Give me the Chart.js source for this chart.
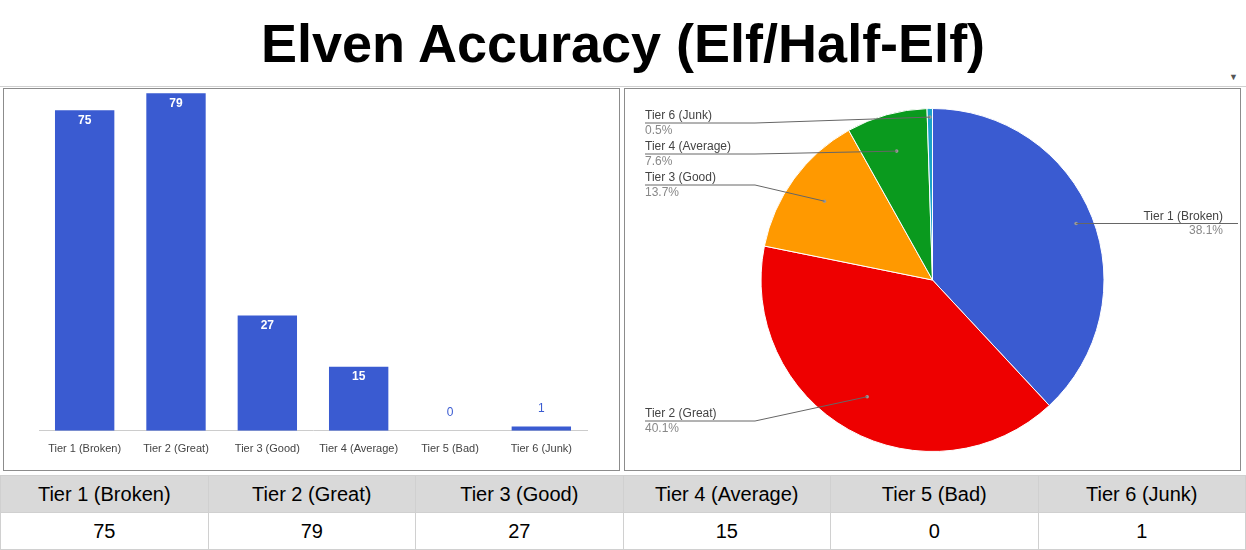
<!DOCTYPE html>
<html>
<head>
<meta charset="utf-8">
<script src="https://cdn.jsdelivr.net/npm/chart.js@4"></script>
<style>
  body { margin: 0; width: 1246px; height: 550px; background: #fff; font-family: "Liberation Sans", Arial, sans-serif; overflow: hidden; position: relative; }
  #title { position: absolute; left: 0; top: 0; width: 1246px; height: 86px; border-bottom: 1px solid #d0d0d0; text-align: center; font-weight: bold; font-size: 54px; line-height: 86px; color: #000; }
  .box { position: absolute; top: 88px; width: 615px; height: 381px; border: 1px solid #8c8c8c; background: #fff; }
  #barBox { left: 3px; }
  #pieBox { left: 624px; }
  table { position: absolute; left: 0; top: 475px; width: 1246px; border-collapse: collapse; table-layout: fixed; }
  td { border: 1px solid #d0d0d0; text-align: center; font-size: 20px; color: #000; }
  tr.head td { background: #d9d9d9; height: 34px; }
  tr.vals td { background: #fff; height: 34px; }
  #arrow { position: absolute; left: 1229px; top: 72px; font-size: 9px; color: #555; }
</style>
</head>
<body>
<div id="title">Elven Accuracy (Elf/Half-Elf)</div>
<div id="arrow">▼</div>
<div class="box" id="barBox"><canvas id="bar" width="615" height="381"></canvas></div>
<div class="box" id="pieBox"><canvas id="pie" width="615" height="381"></canvas></div>
<table id="tbl"></table>
<script>
const categories = ['Tier 1 (Broken)', 'Tier 2 (Great)', 'Tier 3 (Good)', 'Tier 4 (Average)', 'Tier 5 (Bad)', 'Tier 6 (Junk)'];
const counts = [75, 79, 27, 15, 0, 1];
const pieColors = ['#3a5bd1', '#ee0000', '#ff9900', '#0a9a1e', '#9a0099', '#1aa3c9'];
const barColor = '#3a5bd1';

// ─── table ──────────────────────────────────────────────────────────────
document.getElementById('tbl').innerHTML =
    '<tr class="head">' + categories.map(c => `<td>${c}</td>`).join('') + '</tr>' +
    '<tr class="vals">' + counts.map(v => `<td>${v}</td>`).join('') + '</tr>';

// ─── bar chart ──────────────────────────────────────────────────────────
const barLabels = {
    id: 'barLabels',
    afterDatasetsDraw(chart) {
        const ctx = chart.ctx;
        const meta = chart.getDatasetMeta(0);
        ctx.save();
        ctx.textAlign = 'center';
        meta.data.forEach((el, i) => {
            const v = counts[i];
            if (v >= 10) {
                ctx.font = 'bold 12px "Liberation Sans", Arial';
                ctx.fillStyle = '#fff';
                ctx.textBaseline = 'top';
                ctx.fillText(v, el.x, el.y + 4);
            } else {
                ctx.font = '12px "Liberation Sans", Arial';
                ctx.fillStyle = barColor;
                ctx.textBaseline = 'bottom';
                ctx.fillText(v, el.x, el.y - 12);
            }
        });
        ctx.restore();
    }
};

new Chart(document.getElementById('bar'), {
    type: 'bar',
    data: {
        labels: categories,
        datasets: [{data: counts, backgroundColor: barColor, categoryPercentage: 0.65, barPercentage: 1}],
    },
    options: {
        responsive: false,
        animation: false,
        layout: {padding: {left: 35, right: 32, top: 0, bottom: 10}},
        plugins: {legend: {display: false}, tooltip: {enabled: false}},
        scales: {
            x: {
                grid: {display: false},
                border: {color: '#cccccc'},
                ticks: {color: '#444', font: {size: 11, family: '"Liberation Sans", Arial'}, maxRotation: 0, padding: 4},
            },
            y: {display: false, min: 0, max: 80},
        },
    },
    plugins: [barLabels],
});

// ─── pie chart ──────────────────────────────────────────────────────────
const total = counts.reduce((a, b) => a + b, 0);
const pieLabelY = [null, 326, 90, 59, 0, 28];   // text rows for left-side labels

const pieLabels = {
    id: 'pieLabels',
    afterDatasetsDraw(chart) {
        const ctx = chart.ctx;
        const meta = chart.getDatasetMeta(0);
        ctx.save();
        ctx.font = '12px "Liberation Sans", Arial';
        ctx.textBaseline = 'alphabetic';
        meta.data.forEach((arc, i) => {
            if (!counts[i]) return;
            const mid = (arc.startAngle + arc.endAngle) / 2;
            const r = arc.outerRadius * (i === 0 ? 0.9 : i === 5 ? 0.95 : 0.78);
            const px = arc.x + Math.cos(mid) * r;
            const py = arc.y + Math.sin(mid) * r;
            const pct = (counts[i] / total * 100).toFixed(1) + '%';
            ctx.strokeStyle = '#666';
            ctx.lineWidth = 1;
            ctx.fillStyle = '#999';
            ctx.beginPath(); ctx.arc(px, py, 1.8, 0, Math.PI * 2); ctx.fill();
            if (i === 0) {
                const tx = chart.chartArea.right - 2;
                ctx.beginPath(); ctx.moveTo(px, py); ctx.lineTo(tx, py); ctx.stroke();
                ctx.textAlign = 'right';
                ctx.fillStyle = '#444';
                ctx.fillText(categories[i], 598, py - 4);
                ctx.fillStyle = '#888';
                ctx.fillText(pct, 598, py + 10);
            } else {
                const ly = pieLabelY[i];
                const lx = 20;
                ctx.beginPath(); ctx.moveTo(lx, ly + 6); ctx.lineTo(lx + 110, ly + 6); ctx.lineTo(px, py); ctx.stroke();
                ctx.textAlign = 'left';
                ctx.fillStyle = '#444';
                ctx.fillText(categories[i], lx, ly + 2);
                ctx.fillStyle = '#888';
                ctx.fillText(pct, lx, ly + 17);
            }
        });
        ctx.restore();
    }
};

new Chart(document.getElementById('pie'), {
    type: 'pie',
    data: {
        labels: categories,
        datasets: [{data: counts, backgroundColor: pieColors, borderColor: '#fff', borderWidth: 1}],
    },
    options: {
        responsive: false,
        animation: false,
        layout: {padding: {top: 19, bottom: 18, left: 0, right: 0}},
        plugins: {legend: {display: false}, tooltip: {enabled: false}},
    },
    plugins: [pieLabels],
});
</script>
</body>
</html>
